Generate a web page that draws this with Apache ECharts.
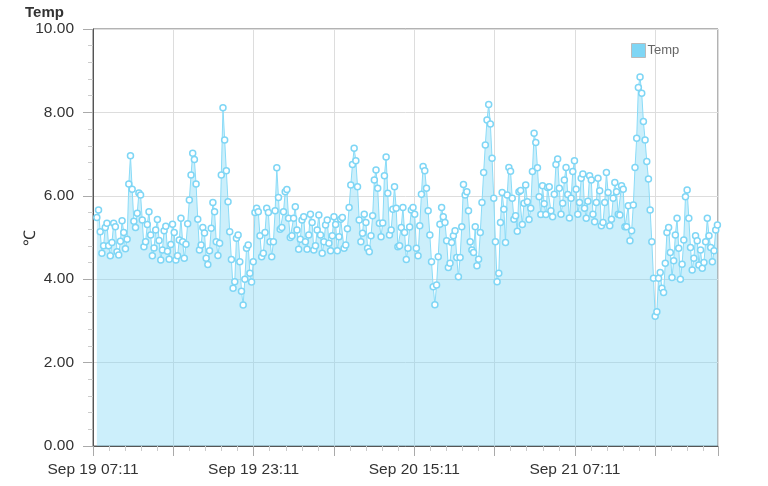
<!DOCTYPE html>
<html>
<head>
<meta charset="utf-8">
<title>Temp</title>
<script src="https://cdn.jsdelivr.net/npm/echarts@6/dist/echarts.min.js"></script>
<style>
  html, body { margin: 0; padding: 0; background: #fff; }
  #chart { width: 768px; height: 486px; }
</style>
</head>
<body>
<div id="chart"></div>
<script>
// axis starts at Sep 19 07:11, x values are hours since then
const axisStart = Date.UTC(2023, 8, 19, 7, 11);
const axisHours = 62.25;
const firstReading = 23 / 60;   // first reading 07:34
const stepHours = 10.05 / 60;   // roughly one reading every 10 min

const seriesName = 'Temp';
const yTicks = [0, 2, 4, 6, 8, 10];

const temps = [
  5.48, 5.66, 5.14, 4.62, 4.8, 5.24, 5.34, 4.8, 4.56, 4.88,
  5.34, 5.26, 4.66, 4.58, 4.91, 5.4, 5.12, 4.73, 4.96, 6.28,
  6.96, 6.16, 5.39, 5.24, 5.58, 6.07, 6.02, 5.42, 4.78, 4.9,
  5.31, 5.62, 5.06, 4.56, 4.75, 5.18, 5.43, 4.93, 4.46, 4.7,
  5.16, 5.27, 4.67, 4.48, 4.83, 5.32, 5.12, 4.46, 4.56, 4.94,
  5.46, 4.9, 4.5, 4.84, 5.33, 5.9, 6.5, 7.02, 6.87, 6.28,
  5.44, 4.7, 4.82, 5.24, 5.11, 4.5, 4.35, 4.68, 5.22, 5.84,
  5.62, 4.9, 4.57, 4.86, 6.5, 8.11, 7.34, 6.6, 5.86, 5.14,
  4.47, 3.78, 3.94, 4.98, 5.06, 4.42, 3.71, 3.38, 4.0, 4.74,
  4.82, 4.14, 3.93, 4.42, 5.6, 5.7, 5.62, 5.04,

  4.54, 4.62, 5.12, 5.7, 5.6, 4.9, 4.54, 4.9, 5.64, 6.67,
  5.96, 5.2, 5.24, 5.62, 6.1, 6.15, 5.46, 5.0, 5.04, 5.46,
  5.74, 5.18, 4.72, 4.96, 5.42, 5.5, 4.9, 4.72, 5.06, 5.56,
  5.36, 4.7, 4.8, 5.18, 5.54, 5.06, 4.62, 4.9, 5.3, 5.42,
  4.86, 4.68, 5.04, 5.5, 5.31, 4.68, 5.02, 5.44, 5.48, 4.74,
  4.82, 5.21, 5.72, 6.26, 6.75, 7.14, 6.84, 6.22, 5.42, 4.9,
  5.1, 5.56, 5.36, 4.74, 4.66, 5.04, 5.52, 6.38, 6.62, 6.18,
  5.34, 5.02, 5.35, 6.48, 6.93, 6.06, 5.06, 5.18, 5.68, 6.22,
  5.7, 4.78, 4.8, 5.24, 5.72, 5.12, 4.47, 4.74, 5.25, 5.66,
  5.72, 5.56, 4.74,

  4.56, 5.28, 6.04, 6.7, 6.6, 6.18, 5.64, 5.06, 4.42, 3.82,
  3.39, 3.86, 4.54, 5.32, 5.72, 5.5, 5.36, 4.92, 4.28, 4.38,
  4.88, 5.04, 5.16, 4.52, 4.06, 4.52, 5.26, 6.27, 6.02, 6.1,
  5.64, 4.9, 4.7, 4.64, 5.26, 4.32, 4.48, 5.12, 5.84, 6.56,
  7.22, 7.82, 8.19, 7.72, 6.9, 5.94, 4.9, 3.94, 4.14, 5.36,
  6.08, 5.68, 4.88, 6.02, 6.68, 6.59, 5.94, 5.44, 5.52, 5.15,
  6.1, 6.13, 5.31, 5.82, 6.26, 5.86, 5.43, 5.7, 6.58, 7.5,
  7.28, 6.67, 5.98, 5.55, 6.24, 5.81, 5.55, 6.2, 6.22, 5.64,
  5.5, 6.04, 6.75, 6.88, 6.18, 5.56, 5.82, 6.38, 6.68, 6.03,
  5.47,

  5.94, 6.58, 6.84, 6.16, 5.56, 5.84, 6.42, 6.52, 5.7, 5.46,
  5.87, 6.48, 6.38, 5.56, 5.38, 5.84, 6.42, 6.12, 5.28, 5.36,
  5.84, 6.56, 6.08, 5.28, 5.44, 5.94, 6.32, 6.1, 5.56, 5.54,
  6.24, 6.16, 5.26, 5.26, 5.76, 4.92, 5.16, 5.78, 6.68, 7.38,
  8.6, 8.85, 8.46, 7.78, 7.34, 6.82, 6.4, 5.66, 4.9, 4.02,
  3.11, 3.22, 4.02, 4.16, 3.78, 3.68, 4.38, 5.12, 5.24, 4.64,
  4.04, 4.44, 5.06, 5.46, 4.74, 4.0, 4.36, 4.94, 5.98, 6.14,
  5.46, 4.76, 4.22, 4.5, 5.04, 4.92, 4.34, 4.7, 4.26, 4.4,
  4.9, 5.46, 5.04, 4.76, 4.42, 4.68, 5.18, 5.3
];

const months = ['Jan', 'Feb', 'Mar', 'Apr', 'May', 'Jun', 'Jul', 'Aug', 'Sep', 'Oct', 'Nov', 'Dec'];
function pad(n) { return n < 10 ? '0' + n : '' + n; }
function timeLabel(h) {
  const d = new Date(axisStart + h * 3600e3);
  return months[d.getUTCMonth()] + ' ' + d.getUTCDate() + ' ' + pad(d.getUTCHours()) + ':' + pad(d.getUTCMinutes());
}

const points = temps.map((v, i) => [firstReading + i * stepHours, v]);

const chart = echarts.init(document.getElementById('chart'));
const option = {
  animation: false,
  textStyle: { fontFamily: 'Liberation Sans, Arial, sans-serif' },
  title: {
    text: 'Temp',
    left: 20,
    top: 0,
    textStyle: { fontSize: 15, fontWeight: 'bold', color: '#333' }
  },
  legend: {
    data: [seriesName],
    left: 626,
    top: 38,
    icon: 'rect',
    itemWidth: 14,
    itemHeight: 14,
    itemStyle: { color: '#7fd6f5', borderColor: '#bbb', borderWidth: 1 },
    textStyle: { fontSize: 13, color: '#666', padding: [0, 0, 0, -3] }
  },
  grid: {
    left: 93, right: 50, top: 29, bottom: 40,
    show: true,
    borderColor: '#666',
    borderWidth: 1
  },
  xAxis: {
    type: 'value',
    min: 0,
    max: axisHours,
    interval: 8,
    axisLine: { lineStyle: { color: '#555' } },
    axisTick: { length: 10, lineStyle: { color: '#aaa' } },
    minorTick: { show: true, splitNumber: 5, length: 5, lineStyle: { color: '#ccc' } },
    splitLine: { show: true, lineStyle: { color: '#ddd' } },
    axisLabel: {
      fontSize: 15.5,
      color: '#333',
      margin: 16,
      showMaxLabel: false,
      formatter: v => (Math.abs(v % 16) < 1e-6 ? timeLabel(v) : '')
    }
  },
  yAxis: {
    type: 'value',
    min: yTicks[0],
    max: yTicks[yTicks.length - 1],
    interval: 2,
    name: '℃',
    nameLocation: 'middle',
    nameGap: 54,
    nameMoveOverlap: false,
    nameTextStyle: { fontSize: 16, color: '#333' },
    axisLine: { show: true, lineStyle: { color: '#555' } },
    axisTick: { show: true, length: 10, lineStyle: { color: '#aaa' } },
    minorTick: { show: true, splitNumber: 5, length: 5, lineStyle: { color: '#ccc' } },
    splitLine: { show: true, lineStyle: { color: '#ddd' } },
    axisLabel: {
      fontSize: 15.5,
      color: '#333',
      margin: 19,
      formatter: v => v.toFixed(2)
    }
  },
  series: [{
    name: seriesName,
    type: 'line',
    data: points,
    showAllSymbol: true,
    symbol: 'circle',
    symbolSize: 6,
    color: '#7fd6f5',
    lineStyle: { color: '#8adbf7', width: 1 },
    itemStyle: { color: '#fff', borderColor: '#7fd6f5', borderWidth: 1.5 },
    areaStyle: { color: '#7fd6f5', opacity: 0.4 }
  }]
};
chart.setOption(option);
</script>
</body>
</html>
